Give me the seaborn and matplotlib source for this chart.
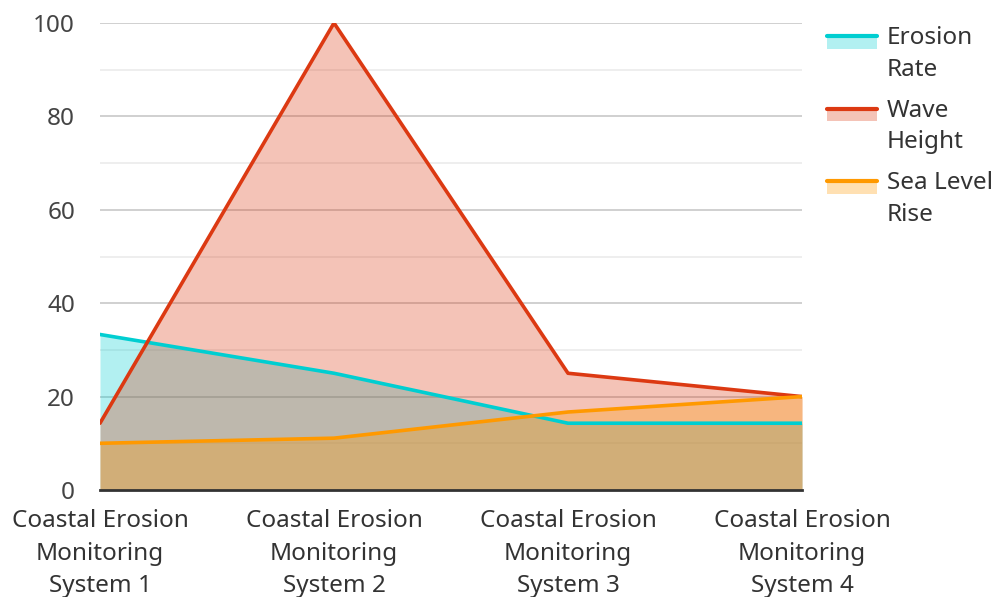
import numpy as np
import pandas as pd
import seaborn as sns
import matplotlib.pyplot as plt
from matplotlib.legend_handler import HandlerBase
from matplotlib.patches import Rectangle
from matplotlib.lines import Line2D

# data
systems = ["Coastal Erosion\nMonitoring\nSystem 1", "Coastal Erosion\nMonitoring\nSystem 2",
           "Coastal Erosion\nMonitoring\nSystem 3", "Coastal Erosion\nMonitoring\nSystem 4"]
erosion_rate = [33.3, 25.0, 14.3, 14.3]
wave_height = [14.3, 100.0, 25.0, 20.0]
sea_level_rise = [10.0, 11.1, 16.7, 20.0]

series_names = ["Erosion\nRate", "Wave\nHeight", "Sea Level\nRise"]
colors = ["#00CED1", "#DC3912", "#FF9900"]

df = pd.DataFrame({"x": list(range(len(systems))) * 3,
                   "value": erosion_rate + wave_height + sea_level_rise,
                   "series": np.repeat(series_names, len(systems))})

sns.set_theme(style="white")
plt.rcParams['font.family'] = ['Noto Sans', 'DejaVu Sans']
FS = 17.5

fig = plt.figure(figsize=(9.97, 5.97), dpi=100)
ax = fig.add_axes([100/997, 1-490/597, 702/997, 467/597])

# grid: major every 20, minor every 10
for v in range(10, 101, 10):
    ax.axhline(v, color="#c8c8c8" if v % 20 == 0 else "#ebebeb", lw=1.2, zorder=0)

for name, c in zip(series_names, colors):
    sub = df[df.series == name]
    ax.fill_between(sub.x, 0, sub.value, color=c, alpha=0.3, lw=0, zorder=1)
sns.lineplot(data=df, x="x", y="value", hue="series", palette=colors, lw=2.6,
             ax=ax, legend=False, zorder=3)

ax.set_xlim(0, 3)
ax.set_ylim(0, 100)
ax.set_xticks(range(len(systems)))
ax.set_xticklabels(systems, fontsize=FS, color="#333333", linespacing=1.45)
ax.set_yticks(range(0, 101, 20))
ax.tick_params(axis="y", labelsize=FS, labelcolor="#444444", length=0, pad=18)
ax.tick_params(axis="x", length=0, pad=14)
ax.set_xlabel("")
ax.set_ylabel("")
for s in ["top", "right", "left"]:
    ax.spines[s].set_visible(False)
ax.spines["bottom"].set_color("#333333")
ax.spines["bottom"].set_linewidth(2)
ax.spines["bottom"].set_zorder(4)


class AreaHandler(HandlerBase):
    # line on top of a pale block, level with the first text line
    def create_artists(self, legend, orig, xd, yd, w, h, fontsize, trans):
        c = orig.get_color()
        top = -yd + h + 0.42 * fontsize
        r = Rectangle((-xd, top - 9), w, 9, facecolor=c, alpha=0.3, lw=0, transform=trans)
        l = Line2D([-xd, -xd + w], [top, top], color=c, lw=3, transform=trans)
        return [r, l]


handles = [Line2D([], [], color=c) for c in colors]
leg = fig.legend(handles, series_names, loc="upper left", bbox_to_anchor=(827/997, 1-26/597),
                 frameon=False, fontsize=FS, handler_map={Line2D: AreaHandler()},
                 handlelength=2.05, handleheight=0.6, handletextpad=0.42, labelspacing=0.7,
                 borderpad=0, borderaxespad=0)
for t in leg.get_texts():
    t.set_color("#333333")
    t.set_linespacing(1.42)

fig.savefig("out.png", dpi=100)
